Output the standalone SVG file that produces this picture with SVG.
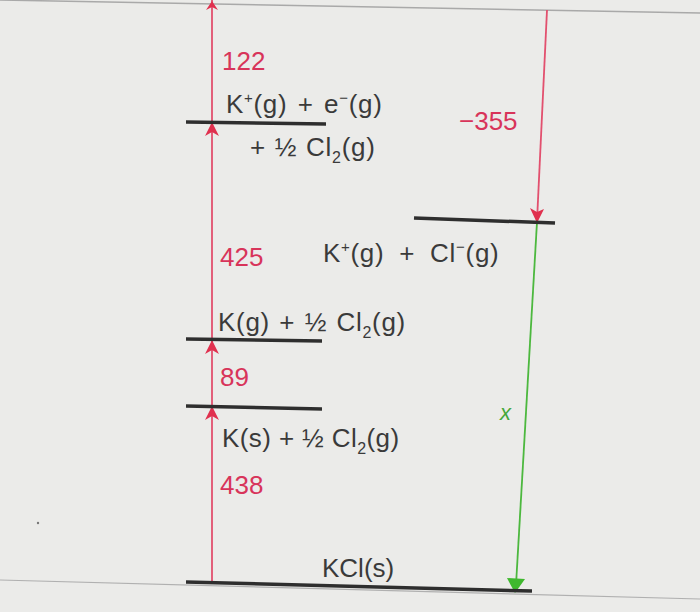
<svg xmlns="http://www.w3.org/2000/svg" width="700" height="612" viewBox="0 0 700 612">
<defs>
<style>
.lvl{stroke:#2e2e2e;stroke-width:3.5;fill:none}
.lbl{font-family:"Liberation Sans",Arial,sans-serif;font-size:26px;fill:#3a3a3a;letter-spacing:0.7px}
.val{font-family:"Liberation Sans",Arial,sans-serif;font-size:26px;fill:#d8345a}
.red{stroke:#e2506e;stroke-width:1.8;fill:none}
.grn{stroke:#4cb83e;stroke-width:1.8;fill:none}
.ah{fill:#e0304e}
</style>
</defs>
<rect width="700" height="612" fill="#ebebe9"/>
<line x1="0" y1="0" x2="700" y2="13" stroke="#a9a9a9" stroke-width="1.5"/>
<line x1="0" y1="580" x2="700" y2="599" stroke="#b0b0b0" stroke-width="1.2"/>
<circle cx="38" cy="523" r="1.2" fill="#777"/>

<g id="connectors">
<line class="red" x1="212" y1="583" x2="212" y2="0"/>
<path class="ah" d="M212 406 L219 420 L212 416 L205 420 Z"/>
<path class="ah" d="M212 340 L219 354 L212 350 L205 354 Z"/>
<path class="ah" d="M212 122 L219 136 L212 132 L205 136 Z"/>
<path class="ah" d="M212 1 L218 10 L212 7 L206 10 Z"/>
<line class="red" x1="547" y1="10" x2="537" y2="221"/>
<path class="ah" d="M537 223 L530 208 L537 212 L544 209 Z"/>
<line class="grn" x1="537" y1="222" x2="516" y2="585"/>
<path d="M515 593 L507 578 L525 579 Z" fill="#3fb82e"/>
</g>

<g id="n-ionized">
<line class="lvl" x1="186" y1="122" x2="326" y2="124"/>
<text class="lbl" x="226" y="113" word-spacing="2.5">K<tspan font-size="15" dy="-10">+</tspan><tspan dy="10">(g) + e</tspan><tspan font-size="15" dy="-10">−</tspan><tspan dy="10">(g)</tspan></text>
<text class="lbl" x="250" y="156" word-spacing="1">+ ½ Cl<tspan font-size="16" dy="7">2</tspan><tspan dy="-7">(g)</tspan></text>
</g>
<g id="n-ions">
<line class="lvl" x1="414" y1="218" x2="555" y2="223"/>
<text class="lbl" x="323" y="262" word-spacing="7">K<tspan font-size="15" dy="-10">+</tspan><tspan dy="10">(g) + Cl</tspan><tspan font-size="15" dy="-10">−</tspan><tspan dy="10">(g)</tspan></text>
</g>
<g id="n-gas">
<line class="lvl" x1="186" y1="339" x2="322" y2="341"/>
<text class="lbl" x="218" y="331" word-spacing="1.5">K(g) + ½ Cl<tspan font-size="16" dy="7">2</tspan><tspan dy="-7">(g)</tspan></text>
</g>
<g id="n-solid">
<line class="lvl" x1="186" y1="406" x2="322" y2="409"/>
<text class="lbl" x="222" y="447" style="letter-spacing:0.4px">K(s) + ½ Cl<tspan font-size="16" dy="7">2</tspan><tspan dy="-7">(g)</tspan></text>
</g>
<g id="n-kcl">
<line class="lvl" x1="186" y1="582" x2="532" y2="591"/>
<text class="lbl" x="322" y="577" style="letter-spacing:0">KCl(s)</text>
</g>

<g id="values">
<text class="val" x="222" y="70">122</text>
<text class="val" x="459" y="130">−355</text>
<text class="val" x="220" y="266">425</text>
<text class="val" x="220" y="386">89</text>
<text class="val" x="220" y="494">438</text>
<text x="500" y="420" font-family="Liberation Sans,Arial,sans-serif" font-size="22" font-style="italic" fill="#45a83a">x</text>
</g>
</svg>
